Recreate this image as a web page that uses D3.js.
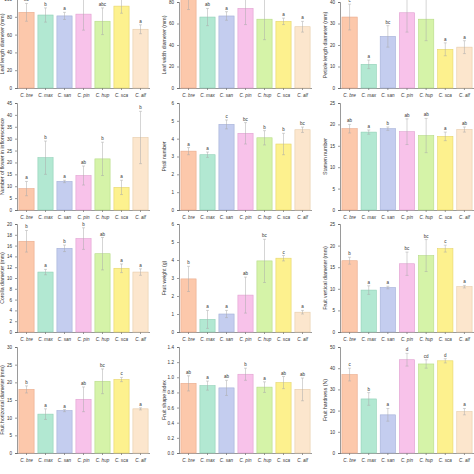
<!DOCTYPE html><html><head><meta charset="utf-8"><script src="https://cdn.jsdelivr.net/npm/d3@7"></script>
<style>body{margin:0;background:#fff}svg{display:block}</style></head><body><script>
const categories=["C. bre","C. max","C. san","C. pin","C. hup","C. sca","C. alf"];
const colors=["#fcc8ab","#b2e8d2","#c4cdef","#f8c2ea","#d5f3a8","#fdf18e","#fce6cd"];
const strokes=["#e9a98a","#8fd0b6","#a3afd8","#e0a0d0","#b6db86","#e6d56a","#e6cba8"];
const titles=["Leaf length diameter (mm)","Leaf width diameter (mm)","Petiole length diameter (mm)","Number of flower in inflorescence","Pistil number","Stamen number","Corolla diameter (mm)","Fruit weight (g)","Fruit vertical diameter (mm)","Fruit horizontal diameter (mm)","Fruit shape index","Fruit hardness (N)"];
const means=[[85,82,81,83,75,92,66],[83,66,67,74,64,62,57],[33,11,24,35,32,18,19],[9,22,12,14.5,21.5,9.5,30.5],[3.3,3.1,4.8,4.3,4.05,3.7,4.5],[19,18.2,19,18.3,17.4,17.2,18.8],[16.8,11.1,15.5,17.3,14.5,11.8,11.1],[2.95,0.7,1.0,2.05,3.95,4.1,1.1],[16.5,9.7,10.3,15.8,17.7,19.3,10.5],[18,11,12,15.2,20.3,20.8,12.5],[0.92,0.89,0.86,1.04,0.87,0.93,0.84],[37,25.5,18,44,42,43.5,19.5]];
const errs=[[10,8,4,18,15,8,5],[10,8,4,15,19,3,5],[6,2,5,9,10,3,3],[3,7,0.5,4,7,3,11],[0.2,0.15,0.25,0.6,0.4,0.6,0.15],[1,0.5,0.4,3,4,1,0.6],[2,0.5,0.6,2,3,0.8,0.6],[0.7,0.5,0.2,1.0,1.2,0.15,0.1],[0.8,1,0.3,2.7,3.7,0.8,0.3],[1,1.5,0.3,3.5,3.5,0.6,0.3],[0.1,0.06,0.1,0.08,0.07,0.08,0.15],[3,3,3,3,2,1,1.5]];
const letters=[["bc","b","a","c","abc","c","a"],["c","ab","a","c","abc","a","a"],["c","a","bc","c","c","a","a"],["a","b","a","ab","b","a","b"],["a","a","c","bc","b","b","bc"],["ab","a","b","ab","ab","a","ab"],["b","a","b","b","ab","a","a"],["b","a","a","ab","bc","c","a"],["b","a","a","bc","bc","c","a"],["b","a","a","ab","bc","c","a"],["ab","a","ab","b","a","ab","ab"],["c","b","a","d","cd","d","a"]];
const yMax=[100,80,40,45,6,25,20,6,25,30,1.4,50];
const yStep=[20,20,10,5,1,5,2,1,5,5,0.2,10];
const rowBase=[88,210,332,453], rowTopPx=[[-1,2,2],[103,103,103],[224,224,224],[347,347,347]];
const colX=[[17,150],[179,312],[340,474]];
const svg=d3.select("body").append("svg").attr("width",474).attr("height",474).style("font-family","Liberation Sans, Arial, sans-serif");
for(let p=0;p<12;p++){
 const r=Math.floor(p/3),c=p%3;
 const x=d3.scaleBand().domain(categories).range(colX[c]).paddingInner(0.2).paddingOuter(0.1);
 const y=d3.scaleLinear().domain([0,yMax[p]]).range([rowBase[r],rowTopPx[r][c]]);
 const g=svg.append("g");
 const ticks=d3.range(0,yMax[p]+yStep[p]/2,yStep[p]);
 const ya=g.append("g").attr("transform",`translate(${colX[c][0]},0)`).call(d3.axisLeft(y).tickValues(ticks).tickSize(2).tickFormat(v=>yStep[p]<1?d3.format(".1f")(v):d3.format("d")(v)));
 const xa=g.append("g").attr("transform",`translate(0,${rowBase[r]})`).call(d3.axisBottom(x).tickSize(2));
 [ya,xa].forEach(a=>{a.selectAll("text").attr("font-size",4.6).attr("fill","#333");a.selectAll("line,path").attr("stroke","#555").attr("stroke-width",0.6);});
 xa.selectAll("text").attr("font-style","italic").attr("dy","0.9em");
 xa.select(".domain").attr("d",`M${colX[c][0]},0.5H${colX[c][1]}`);
 g.append("text").attr("transform",`translate(${colX[c][0]-13},${(rowBase[r]+Math.max(rowTopPx[r][c],0))/2}) rotate(-90)`).attr("text-anchor","middle").attr("font-size",5.2).attr("fill","#333").text(titles[p]);
 categories.forEach((k,i)=>{
  const m=means[p][i],e=errs[p][i],cx=x(k)+x.bandwidth()/2;
  g.append("rect").attr("x",x(k)).attr("width",x.bandwidth()).attr("y",y(m)).attr("height",rowBase[r]-y(m)).attr("fill",colors[i]).attr("stroke",strokes[i]).attr("stroke-width",0.6);
  g.append("line").attr("x1",cx).attr("x2",cx).attr("y1",y(m-e)).attr("y2",y(m+e)).attr("stroke","#aaa").attr("stroke-width",0.5);
  [m-e,m+e].forEach(v=>g.append("line").attr("x1",cx-1.5).attr("x2",cx+1.5).attr("y1",y(v)).attr("y2",y(v)).attr("stroke","#aaa").attr("stroke-width",0.5));
  g.append("text").attr("x",cx).attr("y",y(m+e)-2).attr("text-anchor","middle").attr("font-size",4.5).attr("fill","#333").text(letters[p][i]);
 });
}
</script></body></html>
